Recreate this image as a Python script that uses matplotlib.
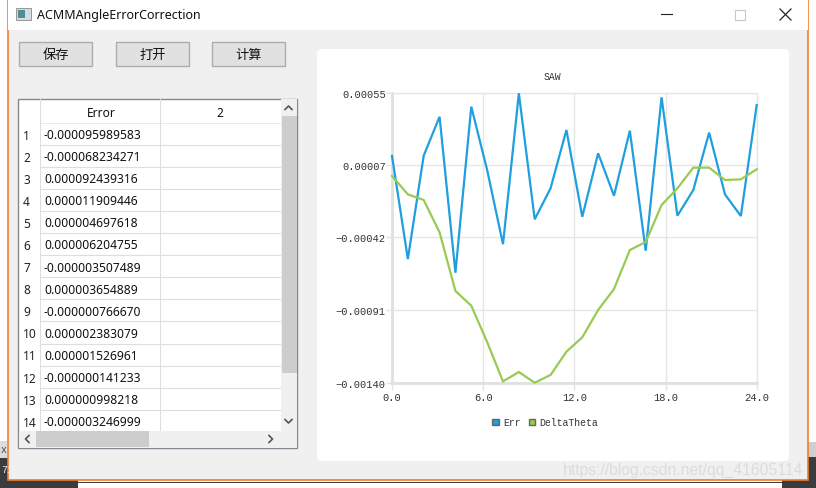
# -*- coding: utf-8 -*-
import numpy as np
import matplotlib
matplotlib.use('Agg')
import matplotlib.pyplot as plt
from matplotlib.patches import Rectangle, FancyBboxPatch, Patch

W, H = 816, 489

err = [0.000128, -0.000567, 0.000130, 0.000392, -0.000659, 0.000460, 0.000033, -0.000467,
       0.000550, -0.000299, -0.000090, 0.000303, -0.000282, 0.000146, -0.000140, 0.000298,
       -0.000511, 0.000523, -0.000275, -0.000102, 0.000285, -0.000131, -0.000277, 0.000471]
delta_theta = [-0.000007, -0.000131, -0.000169, -0.000387, -0.000782, -0.000881, -0.001126, -0.001391,
               -0.001328, -0.001400, -0.001348, -0.001191, -0.001094, -0.000910, -0.000769, -0.000506,
               -0.000452, -0.000203, -0.000090, 0.000049, 0.000049, -0.000034, -0.000030, 0.000038]
x_ticks = [0, 6, 12, 18, 24]
x_labels = ['0.0', '6.0', '12.0', '18.0', '24.0']
y_ticks = [0.00055, 0.00007, -0.00042, -0.00091, -0.00140]
y_labels = ['0.00055', '0.00007', '\u22120.00042', '\u22120.00091', '\u22120.00140']

table_values = ['-0.000095989583', '-0.000068234271', '0.000092439316', '0.000011909446',
                '0.000004697618', '0.000006204755', '-0.000003507489', '0.000003654889',
                '-0.000000766670', '0.000002383079', '0.000001526961', '-0.000000141233',
                '0.000000998218', '-0.000003246999']
buttons = ['保存', '打开', '计算']

ui_font = ['Noto Sans', 'Noto Sans CJK SC', 'DejaVu Sans']
chart_font = ['Liberation Mono', 'DejaVu Sans Mono']

fig = plt.figure(figsize=(W / 100, H / 100), dpi=100, facecolor='white')

# the window is drawn in pixel coordinates, y going down
bg = fig.add_axes([0, 0, 1, 1])
bg.set_xlim(0, W)
bg.set_ylim(H, 0)
bg.axis('off')


def rect(x0, y0, x1, y1, fc, ec='none', lw=0, z=1):
    bg.add_patch(Rectangle((x0, y0), x1 - x0, y1 - y0, facecolor=fc, edgecolor=ec, linewidth=lw, zorder=z))


def txt(x, y, s, size=9, color='#111111', ha='left', family=ui_font, z=5, alpha=None):
    bg.text(x, y, s, fontsize=size, color=color, ha=ha, va='center', family=family, zorder=z, alpha=alpha)


# things behind the window
rect(0, 442, 7, 459, '#dcdcdc')
rect(0, 459, 78, 489, '#3b3c3e')
rect(78, 482.5, 816, 484, '#3b3c3e')
rect(782, 481, 816, 489, '#3b3c3e')
rect(808, 443, 816, 458, '#cfcfcf')
rect(808, 458, 816, 489, '#3b3c3e')
txt(1, 450, 'x', size=7, color='#444444', family=chart_font)
txt(1, 470, '7i', size=7, color='#eeeeee', family=chart_font)

# window body and title bar
rect(7.5, 0.5, 808, 481, '#f0f0f0', ec='#f37a2c', lw=1.2, z=2)
rect(8, 1, 807.5, 31, 'white', z=3)
rect(16, 9, 31, 21, '#d5dde0', ec='#888888', lw=0.6, z=4)
rect(18, 11, 25, 19, '#4f8f8f', z=5)
txt(37, 15.5, 'ACMMAngleErrorCorrection', size=9)
bg.plot([661, 672], [15, 15], color='#222222', lw=0.8, zorder=5)
rect(734.5, 10.5, 744.5, 20.5, 'none', ec='#c8c8c8', lw=0.8, z=5)
bg.plot([780, 791], [10, 21], color='#222222', lw=0.9, zorder=5)
bg.plot([780, 791], [21, 10], color='#222222', lw=0.9, zorder=5)

# buttons
for x0, name in zip([19, 116, 212], buttons):
    rect(x0, 42.5, x0 + 73, 66.5, '#e1e1e1', ec='#adadad', lw=1, z=4)
    txt(x0 + 36.5, 55, name, size=9.5, ha='center')

# table
rect(18, 99.5, 297, 449, 'white', ec='#828790', lw=1, z=3)
txt(101, 113.5, 'Error', size=8.6, ha='center')
txt(220, 113.5, '2', size=8.6, ha='center')
row_top = 124
row_h = 22.05
for i, val in enumerate(table_values):
    yc = row_top + row_h * i + 11
    txt(23, yc + 1.5, str(i + 1), size=8.6, color='#222222')
    txt(44, yc + 0.7, val, size=8.7)
    if i < 13:
        bg.plot([40, 281], [row_top + row_h * (i + 1)] * 2, color='#dedede', lw=0.8, zorder=4)
bg.plot([40, 281], [124, 124], color='#e6e6e6', lw=0.6, zorder=4)
bg.plot([40, 40], [100, 432], color='#dedede', lw=0.8, zorder=4)
bg.plot([160, 160], [100, 432], color='#dedede', lw=0.8, zorder=4)

# scroll bars
rect(281, 100, 296.5, 432, '#f0f0f0', z=4)
rect(281.5, 117, 296.5, 374, '#cdcdcd', z=5)
rect(19, 432, 296.5, 448.5, '#f0f0f0', z=4)
rect(36, 432, 149, 448, '#cdcdcd', z=5)
for xs, ys in [([285, 288.5, 292], [110.5, 107, 110.5]),
               ([285, 288.5, 292], [420.5, 424, 420.5]),
               ([29, 25.5, 29], [436.5, 440, 443.5]),
               ([269, 272.5, 269], [436.5, 440, 443.5])]:
    bg.plot(xs, ys, color='#555555', lw=1.2, zorder=6)

# white panel behind the chart
bg.add_patch(FancyBboxPatch((321, 54), 464, 404, boxstyle='round,pad=4,rounding_size=5',
                            facecolor='white', edgecolor='none', zorder=2.5))

# chart
ax = fig.add_axes([392 / W, 1 - 383.7 / H, 364.7 / W, 289.4 / H])
ax.patch.set_alpha(0)
x = np.linspace(0, 24, len(err))
ax.plot(x, err, color='#209fdf', lw=1.6, clip_on=False, zorder=3, solid_joinstyle='miter')
ax.plot(x, delta_theta, color='#99ca53', lw=1.6, clip_on=False, zorder=3, solid_joinstyle='miter')
ax.set_xlim(0, 24)
ax.set_ylim(-0.0014, 0.00055)
ax.set_xticks(x_ticks, x_labels, family=chart_font, fontsize=7.5, color='#333333')
ax.set_yticks(y_ticks, y_labels, family=chart_font, fontsize=7.5, color='#333333')
ax.tick_params(axis='x', length=5, width=1, color='#e3e3e3', pad=2)
ax.tick_params(axis='y', length=4, width=1, color='#e3e3e3', pad=0.5)
ax.grid(True, color='#e6e6e6', lw=1)
ax.set_axisbelow(True)
for side in ['top', 'right']:
    ax.spines[side].set_color('#e6e6e6')
    ax.spines[side].set_linewidth(1)
for side in ['left', 'bottom']:
    ax.spines[side].set_color('#e0e0e0')
    ax.spines[side].set_linewidth(2)
ax.set_title('SAW', family=chart_font, fontsize=7, color='#333333', pad=10, x=0.44)

handles = [Patch(facecolor='#209fdf', edgecolor='#666666', label='Err'),
           Patch(facecolor='#99ca53', edgecolor='#666666', label='DeltaTheta')]
ax.legend(handles=handles, loc='center', bbox_to_anchor=(0.42, -0.137), ncol=2, frameon=False,
          prop={'family': chart_font, 'size': 7}, handlelength=0.7, handleheight=0.7,
          handletextpad=0.4, columnspacing=0.8, labelcolor='#333333')

# watermark
fig.text(563 / W, 1 - 470 / H, 'https://blog.csdn.net/qq_41605114', fontsize=11.3, color='#dcdcdc',
         family='Liberation Sans', va='center')

plt.savefig('out.png', dpi=100)
